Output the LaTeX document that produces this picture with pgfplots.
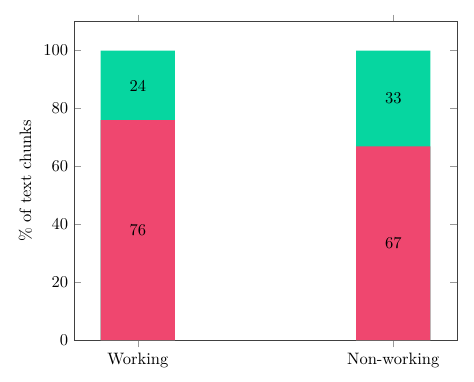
\documentclass[border=0pt]{standalone}
\usepackage{pgfplots}
\pgfplotsset{compat=1.18}
\definecolor{cpink}{HTML}{EF476F}
\definecolor{cgreen}{HTML}{06D6A0}
\begin{document}
\begin{tikzpicture}
\begin{axis}[
  scale only axis,
  width=232pt, height=193pt,
  xmin=-0.25, xmax=1.25,
  ymin=0, ymax=110,
  xtick={0,1}, xticklabels={Working,Non-working},
  ytick={0,20,40,60,80,100},
  ylabel={\% of text chunks},
  ybar, bar width=45pt, bar shift=0pt,
  axis line style={black!75},
  tick style={black!40},
  clip=false,
]
\addplot[fill=cgreen, draw=none] coordinates {(0,100) (1,100)};
\addplot[fill=cpink, draw=none] coordinates {(0,76) (1,67)};
\addplot[only marks, mark=none, draw=none, nodes near coords, point meta=explicit symbolic,
  every node near coord/.append style={anchor=center, black}]
  coordinates {(0,38)[76] (1,33.5)[67] (0,88)[24] (1,83.5)[33]};
\path (rel axis cs:-0.193,-0.128) rectangle (rel axis cs:1.044,1.068);
\end{axis}
\end{tikzpicture}
\end{document}
